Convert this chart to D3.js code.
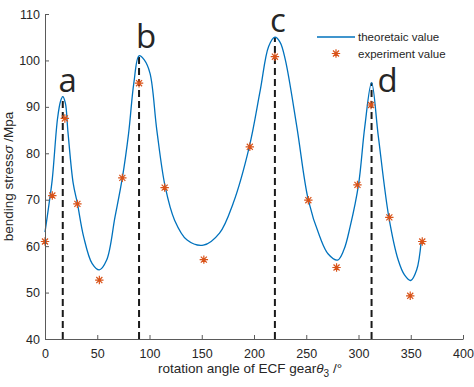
<!DOCTYPE html>
<html>
<head>
<meta charset="utf-8">
<script src="https://cdn.jsdelivr.net/npm/d3@7"></script>
<style>
  body { margin: 0; background: #fff; }
  text { font-family: "Liberation Sans", Arial, sans-serif; fill: #262626; }
</style>
</head>
<body>
<div id="chart"></div>
<script>
const WIDTH = 474;
const HEIGHT = 387;
const MARGIN = { top: 14, right: 11, bottom: 48, left: 45 };

// theoretical curve
const theoAngle = [0, 3.5, 7, 12, 15, 17, 19.5, 22, 27, 31, 37, 45, 52, 59, 67, 74, 80, 85, 90, 95, 100.5, 107, 115, 124, 136, 151.5, 167, 180, 195.5, 206, 214, 220, 225, 230, 241, 252, 263, 271, 280, 286, 292, 300, 306, 312.5, 319, 329, 338, 344, 350, 355.7, 360];
const theoStress = [63, 68.5, 74.5, 87.5, 91.3, 92.2, 90.8, 84.5, 73.5, 69.2, 62, 56.3, 54.9, 57, 66.3, 74.7, 84.3, 95.1, 101, 100.1, 97.2, 85, 72.8, 65.6, 61.3, 60.2, 62.8, 69.2, 81.4, 93.6, 103, 105, 103.9, 100.1, 85.7, 69.9, 62, 58.3, 57, 59.2, 64.2, 73.2, 85.7, 95.2, 83.6, 66.3, 57, 53.8, 52.6, 54.9, 61];

// experiment values
const expAngle = [0, 7, 19, 31, 52, 74, 90, 114.5, 152, 196, 220, 252, 279, 299, 312, 329.5, 349.5, 361];
const expStress = [61, 70.9, 87.5, 69.1, 52.7, 74.7, 95.1, 72.6, 57.1, 81.4, 100.8, 69.9, 55.4, 73.2, 90.4, 66.2, 49.3, 61];

// peak markers
const peakNames = ['a', 'b', 'c', 'd'];
const peakAngle = [17, 90, 220, 312.5];
const peakStress = [92.2, 101, 105, 95.2];

const xTicks = [0, 50, 100, 150, 200, 250, 300, 350, 400];
const yTicks = [40, 50, 60, 70, 80, 90, 100, 110];

const svg = d3.select('#chart')
  .append('svg')
  .attr('width', WIDTH)
  .attr('height', HEIGHT);

const xScale = d3.scaleLinear()
  .domain([0, 400])
  .range([MARGIN.left, WIDTH - MARGIN.right]);

const yScale = d3.scaleLinear()
  .domain([40, 110])
  .range([HEIGHT - MARGIN.bottom, MARGIN.top]);

// dashed lines up to each peak
svg.selectAll('line.peak')
  .data(peakAngle)
  .enter()
  .append('line')
  .attr('class', 'peak')
  .attr('x1', d => xScale(d))
  .attr('x2', d => xScale(d))
  .attr('y1', yScale(40))
  .attr('y2', (d, i) => yScale(peakStress[i]))
  .attr('stroke', '#1a1a1a')
  .attr('stroke-width', 2)
  .attr('stroke-dasharray', '7,4');

// theoretical curve
const line = d3.line()
  .x(d => xScale(d[0]))
  .y(d => yScale(d[1]))
  .curve(d3.curveCatmullRom.alpha(0.5));

svg.append('path')
  .datum(d3.zip(theoAngle, theoStress))
  .attr('d', line)
  .attr('fill', 'none')
  .attr('stroke', '#0072BD')
  .attr('stroke-width', 1.3);

// asterisk marker like matlab '*'
function star(g, cx, cy) {
  const r = 4.2;
  const k = r * 0.72;
  g.append('path')
    .attr('d', `M${cx - r},${cy}H${cx + r}M${cx},${cy - r}V${cy + r}` +
               `M${cx - k},${cy - k}L${cx + k},${cy + k}M${cx - k},${cy + k}L${cx + k},${cy - k}`)
    .attr('stroke', '#D95319')
    .attr('stroke-width', 1.2)
    .attr('fill', 'none');
}

const pts = svg.append('g');
expAngle.forEach((a, i) => star(pts, xScale(a), yScale(expStress[i])));

// axes
const xAxis = d3.axisBottom(xScale)
  .tickValues(xTicks)
  .tickSizeInner(-4)
  .tickSizeOuter(0)
  .tickPadding(10);

const yAxis = d3.axisLeft(yScale)
  .tickValues(yTicks)
  .tickSizeInner(-4)
  .tickSizeOuter(0)
  .tickPadding(5);

const gx = svg.append('g')
  .attr('transform', 'translate(0,' + (HEIGHT - MARGIN.bottom) + ')')
  .call(xAxis);

const gy = svg.append('g')
  .attr('transform', 'translate(' + MARGIN.left + ',0)')
  .call(yAxis);

[gx, gy].forEach(g => {
  g.selectAll('path, line').attr('stroke', '#5a5a5a');
  g.selectAll('text')
    .style('font-family', '"Liberation Sans", Arial, sans-serif')
    .style('font-size', '12.5px')
    .attr('fill', '#262626');
});

// x label
const xl = svg.append('text')
  .attr('x', 250)
  .attr('y', 373)
  .attr('text-anchor', 'middle')
  .style('font-size', '13.5px');
xl.append('tspan').text('rotation angle of ECF gear');
xl.append('tspan').style('font-style', 'italic').text('θ');
xl.append('tspan').attr('dy', 4).style('font-size', '10px').text('3');
xl.append('tspan').attr('dy', -4).text(' /°');

// y label
const yl = svg.append('text')
  .attr('transform', 'translate(13,' + yScale(75) + ') rotate(-90)')
  .attr('text-anchor', 'middle')
  .style('font-size', '13.5px');
yl.append('tspan').text('bending stress');
yl.append('tspan').style('font-style', 'italic').text('σ');
yl.append('tspan').text(' /Mpa');

// peak letters
const letterDx = [5, 7, 3, 16];
const letterDy = [-5, -8, -5, 9];
svg.selectAll('text.letter')
  .data(peakNames)
  .enter()
  .append('text')
  .attr('class', 'letter')
  .attr('x', (d, i) => xScale(peakAngle[i]) + letterDx[i])
  .attr('y', (d, i) => yScale(peakStress[i]) + letterDy[i])
  .attr('text-anchor', 'middle')
  .style('font-family', '"Open Sans", sans-serif')
  .style('font-size', '33px')
  .attr('fill', '#000')
  .text(d => d);

// legend
const legend = svg.append('g').attr('transform', 'translate(317,37)');
legend.append('line')
  .attr('x1', 0).attr('x2', 38)
  .attr('y1', 0).attr('y2', 0)
  .attr('stroke', '#0072BD')
  .attr('stroke-width', 1.3);
legend.append('text')
  .attr('x', 41).attr('y', 4)
  .style('font-size', '11.5px')
  .text('theoretaic value');
star(legend, 19, 16.5);
legend.append('text')
  .attr('x', 41).attr('y', 20.5)
  .style('font-size', '11.5px')
  .text('experiment value');
</script>
</body>
</html>
